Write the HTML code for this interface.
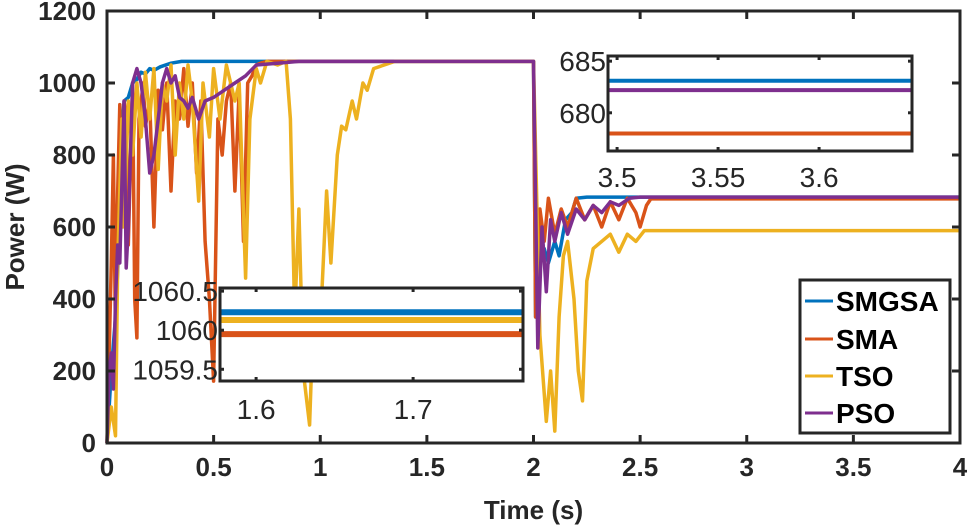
<!DOCTYPE html>
<html><head><meta charset="utf-8"><style>
body{margin:0;background:#fff;}
svg{display:block;font-family:"Liberation Sans",Arial,sans-serif;}
</style></head><body>
<svg id="chart" width="967" height="528"></svg>
<script>
const xTicks=[0,0.5,1,1.5,2,2.5,3,3.5,4];
const xTickLabels=["0","0.5","1","1.5","2","2.5","3","3.5","4"];
const yTicks=[0,200,400,600,800,1000,1200];
const yTickLabels=["0","200","400","600","800","1000","1200"];
const seriesNames=["SMGSA","SMA","TSO","PSO"];
const seriesColors=["#0072BD","#D95319","#EDB120","#7E2F8E"];
const smgsa=[[0,0],[0.02,200],[0.04,350],[0.05,480],[0.06,600],[0.07,880],[0.08,950],[0.1,960],[0.12,1000],[0.14,1010],[0.16,1030],[0.18,1025],[0.2,1040],[0.22,1035],[0.25,1045],[0.3,1055],[0.35,1060],[2.0,1060],[2.01,350],[2.03,500],[2.05,540],[2.07,500],[2.1,560],[2.12,520],[2.15,620],[2.18,640],[2.2,680],[2.25,683],[4,683]];
const sma=[[0,0],[0.02,500],[0.03,800],[0.04,300],[0.05,700],[0.06,940],[0.07,600],[0.08,950],[0.09,900],[0.1,550],[0.12,1000],[0.13,400],[0.14,292],[0.15,900],[0.17,1000],[0.18,880],[0.2,950],[0.22,600],[0.24,980],[0.26,870],[0.28,1000],[0.3,700],[0.32,950],[0.34,900],[0.36,1040],[0.38,880],[0.4,1000],[0.42,750],[0.44,950],[0.46,560],[0.48,400],[0.5,172],[0.52,900],[0.54,800],[0.56,950],[0.58,1000],[0.6,700],[0.62,980],[0.64,560],[0.66,1000],[0.68,1020],[0.7,1050],[0.72,1055],[0.75,1060],[2.0,1060],[2.01,350],[2.03,650],[2.05,560],[2.07,680],[2.1,580],[2.13,650],[2.16,600],[2.2,680],[2.24,620],[2.28,660],[2.32,600],[2.36,670],[2.4,620],[2.44,680],[2.48,640],[2.5,600],[2.53,660],[2.55,678],[4,678]];
const tso=[[0,0],[0.02,100],[0.04,20],[0.05,500],[0.06,700],[0.07,900],[0.08,600],[0.1,950],[0.12,800],[0.14,1000],[0.16,850],[0.18,1030],[0.2,900],[0.22,1040],[0.24,760],[0.26,1000],[0.28,950],[0.3,1050],[0.32,800],[0.34,1000],[0.36,900],[0.38,1050],[0.4,950],[0.43,672],[0.45,1000],[0.48,850],[0.5,1040],[0.53,900],[0.56,1050],[0.6,950],[0.62,1000],[0.65,458],[0.67,900],[0.7,1040],[0.72,1000],[0.75,1060],[0.8,1050],[0.84,1060],[0.86,900],[0.88,350],[0.9,650],[0.92,200],[0.95,50],[0.97,400],[0.99,200],[1.01,450],[1.03,700],[1.05,500],[1.08,800],[1.1,880],[1.12,870],[1.15,950],[1.17,900],[1.2,1000],[1.22,980],[1.25,1040],[1.3,1050],[1.35,1060],[2.0,1060],[2.03,300],[2.06,60],[2.08,200],[2.1,33],[2.12,350],[2.14,520],[2.16,560],[2.19,400],[2.21,200],[2.23,117],[2.25,450],[2.28,540],[2.32,560],[2.36,580],[2.4,530],[2.44,580],[2.48,560],[2.52,590],[4,590]];
const pso=[[0,0],[0.01,200],[0.02,250],[0.03,150],[0.04,400],[0.05,550],[0.06,500],[0.08,950],[0.09,486],[0.1,600],[0.12,1000],[0.14,1040],[0.16,1000],[0.18,900],[0.2,750],[0.22,800],[0.24,900],[0.26,1000],[0.28,1040],[0.3,1000],[0.32,1020],[0.34,960],[0.36,950],[0.38,930],[0.4,960],[0.43,900],[0.46,950],[0.5,960],[0.55,980],[0.6,1000],[0.65,1020],[0.7,1050],[0.8,1055],[0.9,1060],[2.0,1060],[2.02,264],[2.04,600],[2.06,420],[2.08,620],[2.1,560],[2.13,640],[2.16,580],[2.2,650],[2.24,620],[2.28,660],[2.32,640],[2.36,670],[2.4,660],[2.45,680],[2.5,683],[4,683]];
// inset data
const inset1XTicks=[3.5,3.55,3.6];
const inset1XLabels=["3.5","3.55","3.6"];
const inset1YTicks=[680,685];
const inset1YLabels=["680","685"];
const inset1Values=[683.1,678.0,null,682.2];
const inset2XTicks=[1.6,1.7];
const inset2XLabels=["1.6","1.7"];
const inset2YTicks=[1059.5,1060,1060.5];
const inset2YLabels=["1059.5","1060","1060.5"];
const inset2Values=[1060.23,1059.95,1060.13,null];

const NS="http://www.w3.org/2000/svg";
const svg=document.getElementById('chart');
function mk(tag,attrs,parent){const e=document.createElementNS(NS,tag);for(const k in attrs)e.setAttribute(k,attrs[k]);(parent||svg).appendChild(e);return e;}
const L=107,R=960,T=11,B=443;
const xs=t=>L+(t-0)/(4-0)*(R-L);
const ys=v=>B-(v-0)/(1200-0)*(B-T);

const lines=mk('g',{});


const allSeries=[smgsa,sma,tso,pso];
[0,1,2,3].forEach(i=>{
  const d=allSeries[i].map((p,j)=>(j?'L':'M')+xs(p[0]).toFixed(1)+','+ys(p[1]).toFixed(1)).join('');
  const p=mk('path',{d:d,fill:'none',stroke:seriesColors[i],'stroke-width':3.5,'stroke-linejoin':'round'},lines);
  
  
});
const ax=mk('g',{});


mk('rect',{x:L,y:T,width:R-L,height:B-T,fill:'none',stroke:'#262626','stroke-width':3},ax);
xTicks.forEach((t,i)=>{
  const x=xs(t);
  mk('line',{x1:x,y1:B,x2:x,y2:B-8,stroke:'#262626','stroke-width':3},ax);
  mk('line',{x1:x,y1:T,x2:x,y2:T+8,stroke:'#262626','stroke-width':3},ax);
  const tx=mk('text',{x:x,y:B+33,'text-anchor':'middle','font-size':26,'font-weight':'bold',fill:'#262626'},ax);
  tx.textContent=xTickLabels[i];
  
  
});
yTicks.forEach((v,i)=>{
  const y=ys(v);
  mk('line',{x1:L,y1:y,x2:L+8,y2:y,stroke:'#262626','stroke-width':3},ax);
  mk('line',{x1:R,y1:y,x2:R-8,y2:y,stroke:'#262626','stroke-width':3},ax);
  const tx=mk('text',{x:L-11,y:y+9,'text-anchor':'end','font-size':26,'font-weight':'bold',fill:'#262626'},ax);
  tx.textContent=yTickLabels[i];
  
  
});
const xt=mk('text',{x:(L+R)/2,y:519,'text-anchor':'middle','font-size':26,'font-weight':'bold',fill:'#262626'});
xt.textContent='Time (s)';


const yt=mk('text',{x:0,y:0,transform:'translate(24,227) rotate(-90)','text-anchor':'middle','font-size':26,'font-weight':'bold',fill:'#262626'});
yt.textContent='Power (W)';



function inset(name,box,xr,yr,xT,xLab,yT,yLab,vals,lw,xlabY){
  const g=mk('g',{});
  
  
  const ixs=t=>box.x+(t-xr[0])/(xr[1]-xr[0])*box.w;
  const iys=v=>box.y+box.h-(v-yr[0])/(yr[1]-yr[0])*box.h;
  mk('rect',{x:box.x,y:box.y,width:box.w,height:box.h,fill:'#fff'},g);
  vals.forEach((v,i)=>{
    if(v===null)return;
    const l=mk('line',{x1:box.x,x2:box.x+box.w,y1:iys(v),y2:iys(v),stroke:seriesColors[i],'stroke-width':lw},g);
    
    
  });
  mk('rect',{x:box.x,y:box.y,width:box.w,height:box.h,fill:'none',stroke:'#262626','stroke-width':3},g);
  xT.forEach((t,i)=>{
    const x=ixs(t);
    mk('line',{x1:x,y1:box.y+box.h,x2:x,y2:box.y+box.h-4,stroke:'#262626','stroke-width':3},g);
    mk('line',{x1:x,y1:box.y,x2:x,y2:box.y+4,stroke:'#262626','stroke-width':3},g);
    const tx=mk('text',{x:x,y:xlabY,'text-anchor':'middle','font-size':28,fill:'#262626'},g);
    tx.textContent=xLab[i];
    
    
  });
  yT.forEach((v,i)=>{
    const y=iys(v);
    mk('line',{x1:box.x,y1:y,x2:box.x+4,y2:y,stroke:'#262626','stroke-width':3},g);
    mk('line',{x1:box.x+box.w,y1:y,x2:box.x+box.w-4,y2:y,stroke:'#262626','stroke-width':3},g);
    const tx=mk('text',{x:box.x-2,y:y+10,'text-anchor':'end','font-size':28,fill:'#262626'},g);
    tx.textContent=yLab[i];
    
    
  });
}
inset('inset-zoom-3.5s',{x:608,y:56,w:304,h:95},[3.4955,3.646],[676.3,685.5],inset1XTicks,inset1XLabels,inset1YTicks,inset1YLabels,inset1Values,4,187);
inset('inset-zoom-1.6s',{x:220,y:288,w:303,h:93},[1.577,1.770],[1059.35,1060.54],inset2XTicks,inset2XLabels,inset2YTicks,inset2YLabels,inset2Values,6,419);

const lg=mk('g',{});


mk('rect',{x:800,y:280,width:150,height:153,fill:'#fff',stroke:'#262626','stroke-width':3},lg);
const ly=[301,339,376,413];
seriesNames.forEach((n,i)=>{
  const e=mk('g',{},lg);
  
  
  mk('line',{x1:805,x2:833,y1:ly[i],y2:ly[i],stroke:seriesColors[i],'stroke-width':3},e);
  const t=mk('text',{x:836,y:ly[i]+10,'font-size':28,'font-weight':'bold',fill:'#000'},e);
  t.textContent=n;
});
</script>
</body></html>
